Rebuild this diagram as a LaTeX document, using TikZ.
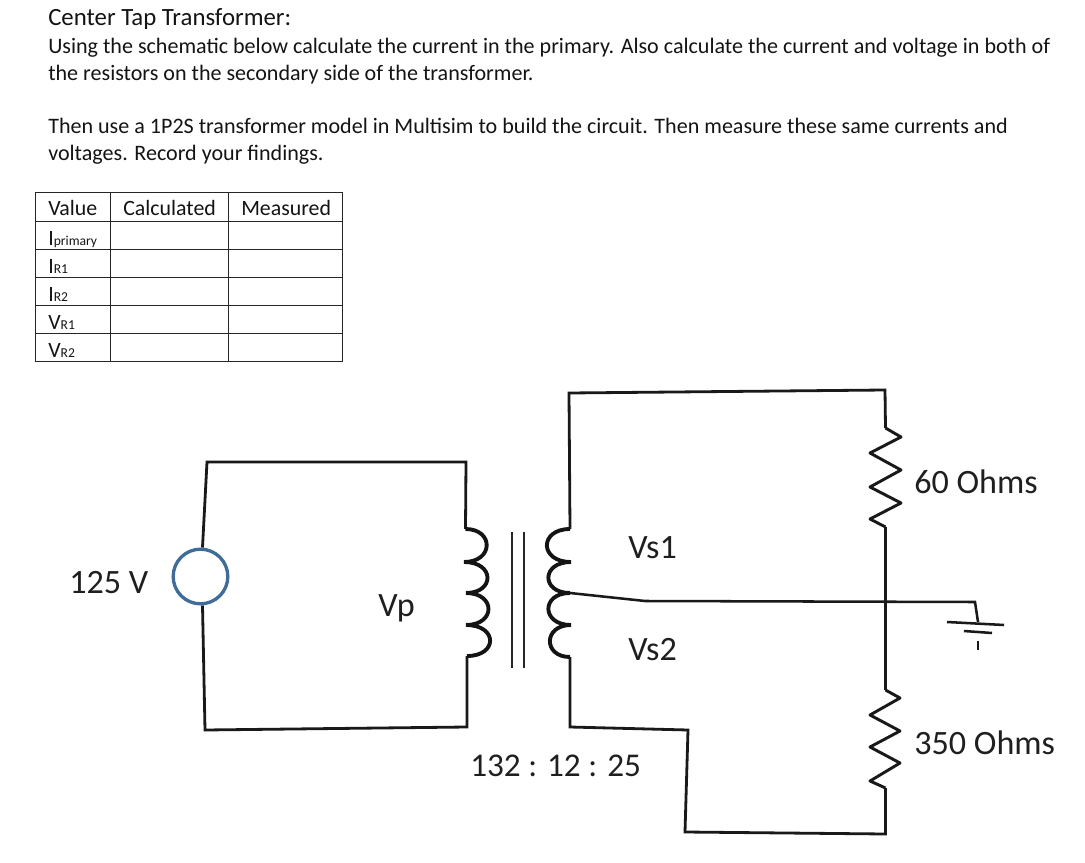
\documentclass[tikz,border=0pt]{standalone}
\usepackage{fontspec}
\setmainfont{Carlito}
\definecolor{srcblue}{HTML}{3F6C98}
\newcommand{\lowtext}[1]{\raisebox{-0.6pt}{\fontsize{10.2}{12}\selectfont #1}}
\tikzset{
  wire/.style={line width=2.1pt,black!90,line join=miter},
  zig/.style={line width=2.2pt,black!90,line join=round},
  thin wire/.style={line width=1.9pt,black!90,line join=miter},
  coil/.style={line width=2.9pt,black!92},
  core/.style={line width=1.6pt,black!85},
  grid/.style={line width=0.75pt,black!85},
  body/.style={anchor=base west,inner sep=0pt,text=black!92,font=\fontsize{16.55}{19}\selectfont},
  head/.style={anchor=base west,inner sep=0pt,text=black!92,font=\fontsize{18.6}{22}\selectfont},
  cell/.style={anchor=base west,inner sep=0pt,text=black!92,font=\fontsize{16.4}{19}\selectfont},
  lbl/.style={anchor=base west,inner sep=0pt,text=black!88,font=\fontsize{25.6}{30}\selectfont},
}
\begin{document}
\begin{tikzpicture}[x=0.75pt,y=0.75pt,yscale=-1,xscale=1]
\useasboundingbox (0,0) rectangle (1085,863);

% heading text
\node[head] (t1) at (48,26) {Center Tap Transformer:};
\node[body] (t2) at (48,54) {Using the schematic below calculate the current in the primary. Also calculate the current and voltage in both of};
\node[body] (t3) at (48,81) {the resistors on the secondary side of the transformer.};
\node[body] (t4) at (48,134) {Then use a 1P2S transformer model in Multisim to build the circuit. Then measure these same currents and};
\node[body] (t5) at (48,161) {voltages. Record your findings.};

% table
\draw[grid] (35,193) rectangle (342,361);
\foreach \yy in {221,249,277,305,333} \draw[grid] (35,\yy) -- (342,\yy);
\foreach \xx in {110,228} \draw[grid] (\xx,193) -- (\xx,361);
\node[cell] (hv) at (48,215) {Value};
\node[cell] (hc) at (123,215) {Calculated};
\node[cell] (hm) at (241,215) {Measured};
\node[cell] (r1) at (48,245) {I\lowtext{primary}};
\node[cell] (r2) at (48,273) {I\lowtext{R1}};
\node[cell] (r3) at (48,301) {I\lowtext{R2}};
\node[cell] (r4) at (48,329) {V\lowtext{R1}};
\node[cell] (r5) at (48,357) {V\lowtext{R2}};

% source
\node[circle,draw=srcblue,line width=2.5pt,minimum size=41pt,inner sep=0pt] (src) at (200.5,576.5) {};

% primary
\coordinate (ptl) at (207,462);
\coordinate (ptr) at (466,462);
\coordinate (pc0) at (465.5,529);
\coordinate (pc4) at (467,656);
\coordinate (pbr) at (467,727);
\coordinate (pbl) at (205,730);
\draw[wire] (src.north) ++(2,0) -- (ptl) -- (ptr) -- (pc0);
\draw[wire] (src.south) ++(2,0) -- (pbl) -- (pbr) -- (pc4);
\draw[coil] (pc0) .. controls (494,529) and (494,562) .. (464,562)
            (464,562) .. controls (495,562) and (495,593) .. (466,593)
            (466,593) .. controls (496,593) and (496,625) .. (466,625)
            (466,625) .. controls (498,625) and (498,656) .. (pc4);

% core
\draw[core] (512,532) -- (512,668);
\draw[core] (524,532) -- (524,668);

% secondary
\coordinate (stl) at (569,393);
\coordinate (str) at (885,390);
\coordinate (sc0) at (570,529);
\coordinate (sc2) at (570,593);
\coordinate (sc4) at (570,657);
\coordinate (sbl) at (570,727);
\coordinate (sbm) at (688,730);
\coordinate (sbn) at (685,832);
\coordinate (sbr) at (885.5,834);
\coordinate (r1a) at (885.5,428);
\coordinate (r1b) at (885.5,527);
\coordinate (r2a) at (885.5,690);
\coordinate (r2b) at (885.5,788);
\draw[wire] (sc0) -- (stl) -- (str) -- (r1a);
\draw[wire] (sc4) -- (sbl) -- (sbm) -- (sbn) -- (sbr) -- (r2b);
\draw[wire] (r1b) -- (r2a);
\draw[coil] (sc0) .. controls (539,529) and (539,562) .. (571,562)
            (571,562) .. controls (541,562) and (541,593) .. (sc2)
            (sc2) .. controls (541,593) and (541,625) .. (571,625)
            (571,625) .. controls (543,625) and (543,657) .. (sc4);

% resistors
\draw[zig] (r1a) -- (901,437) -- (870,453) -- (901,470) -- (870,487) -- (901,503) -- (870,519) -- (r1b);
\draw[zig] (r2a) -- (900,698) -- (870,715) -- (900,731) -- (870,747) -- (900,763) -- (870,781) -- (r2b);

% ground
\coordinate (g0) at (645,601);
\coordinate (g1) at (975,602);
\coordinate (g2) at (978,622);
\draw[thin wire] (sc2) -- (g0) -- (g1) -- (g2);
\draw[thin wire] (947,622) -- (1004,625);
\draw[thin wire] (964,631) -- (992,633);
\draw[thin wire] (978,641) -- (978,650);

% labels
\node[lbl] (v1) at (69,593) {125 V};
\node[lbl] (v2) at (378,616) {Vp};
\node[lbl] (v3) at (628,558) {Vs1};
\node[lbl] (v4) at (628,660) {Vs2};
\node[lbl,font=\fontsize{24.9}{30}\selectfont] (v5) at (470,776) {132 : 12 : 25};
\node[lbl] (v6) at (914,493) {60 Ohms};
\node[lbl] (v7) at (914,754) {350 Ohms};
\end{tikzpicture}
\end{document}
